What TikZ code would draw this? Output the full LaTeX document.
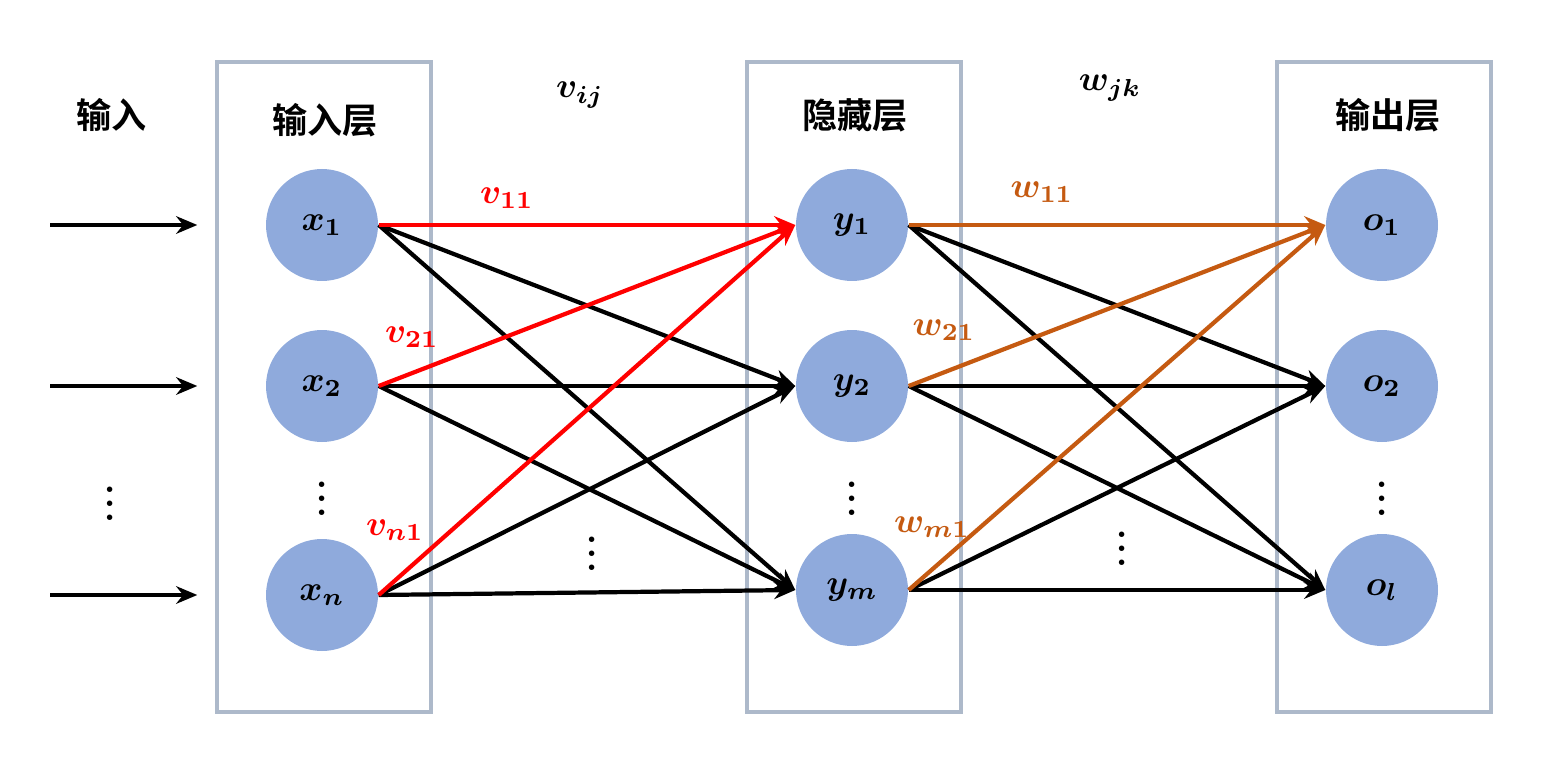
\documentclass[tikz,border=0pt]{standalone}
\usepackage{amsmath,amssymb}
\usepackage{bm}
\usepackage{fontspec}
\usepackage{xcolor}
\usetikzlibrary{arrows.meta}
\usetikzlibrary{positioning}
\newfontfamily\cjk{Noto Sans CJK SC}[BoldFont={* Bold}]
\definecolor{nodeblue}{HTML}{8FAADC}
\definecolor{boxgray}{HTML}{ADB9CA}
\definecolor{wcol}{HTML}{C55A11}
\tikzset{
  neuron/.style={circle,fill=nodeblue,minimum size=1.12cm,inner sep=0pt},
  layerbox/.style={draw=boxgray,line width=1.4pt},
  conn/.style={line width=1.2pt,-{Stealth[length=6pt,width=5pt]}},
  title/.style={font=\cjk\bfseries\fontsize{10}{12}\selectfont},
  wlabel/.style={font=\fontsize{10}{12}\selectfont}
}
\begin{document}
\begin{tikzpicture}[x=1cm,y=1cm]
    \useasboundingbox (0,0) rectangle (15.61,7.73);

    % layer boxes
    \draw[layerbox] (2.17,0.61) rectangle (4.31,7.11);
    \draw[layerbox] (7.47,0.61) rectangle (9.61,7.11);
    \draw[layerbox] (12.77,0.61) rectangle (14.91,7.11);

    % titles
    \node[title] (tin) at (1.12,6.58) {输入};
    \node[title] (tl1) at (3.25,6.53) {输入层};
    \node[title] (tl2) at (8.55,6.58) {隐藏层};
    \node[title] (tl3) at (13.88,6.58) {输出层};
    \node[wlabel] (vij) at (5.80,6.78) {$\bm{v_{ij}}$};
    \node[wlabel] (wjk) at (11.10,6.85) {$\bm{w_{jk}}$};

    % neurons
    \node[neuron] (x1) at (3.22,5.48) {$\bm{x_1}$};
    \node[neuron] (x2) at (3.22,3.87) {$\bm{x_2}$};
    \node[neuron] (xn) at (3.22,1.78) {$\bm{x_n}$};
    \node[neuron] (y1) at (8.52,5.48) {$\bm{y_1}$};
    \node[neuron] (y2) at (8.52,3.87) {$\bm{y_2}$};
    \node[neuron] (ym) at (8.52,1.83) {$\bm{y_m}$};
    \node[neuron] (o1) at (13.82,5.48) {$\bm{o_1}$};
    \node[neuron] (o2) at (13.82,3.87) {$\bm{o_2}$};
    \node[neuron] (ol) at (13.82,1.83) {$\bm{o_l}$};

    % dots
    \node[wlabel] (d0) at (1.10,2.80) {$\bm{\vdots}$};
    \node[wlabel] (d1) at (3.22,2.85) {$\bm{\vdots}$};
    \node[wlabel] (d2) at (8.52,2.85) {$\bm{\vdots}$};
    \node[wlabel] (d3) at (13.82,2.85) {$\bm{\vdots}$};
    \node[wlabel] (d4) at (5.92,2.30) {$\bm{\vdots}$};
    \node[wlabel] (d5) at (11.22,2.35) {$\bm{\vdots}$};

    % input arrows
    \foreach \n in {x1,x2,xn} {
      \coordinate (s\n) at ([xshift=-2.15cm]\n.west);
      \coordinate (e\n) at ([xshift=-0.68cm]\n.west);
      \draw[conn] (s\n) -- (e\n);
    }

    % black connections
    \foreach \a/\b in {x1/y2,x1/ym,x2/y2,x2/ym,xn/y2,xn/ym,
                      y1/o2,y1/ol,y2/o2,y2/ol,ym/o2,ym/ol}
      \draw[conn] (\a.east) -- (\b.west);

    % highlighted connections
    \foreach \a in {x1,x2,xn}
      \draw[conn,red] (\a.east) -- (y1.west);
    \foreach \a in {y1,y2,ym}
      \draw[conn,wcol] (\a.east) -- (o1.west);

    % weight labels
    \node[wlabel,red] (v11) at (5.07,5.75) {$\bm{v_{11}}$};
    \node[wlabel,red] (v21) at (4.12,4.36) {$\bm{v_{21}}$};
    \node[wlabel,red] (vn1) at (3.95,2.43) {$\bm{v_{n1}}$};
    \node[wlabel,wcol] (w11) at (10.42,5.81) {$\bm{w_{11}}$};
    \node[wlabel,wcol] (w21) at (9.44,4.43) {$\bm{w_{21}}$};
    \node[wlabel,wcol] (wm1) at (9.32,2.46) {$\bm{w_{m1}}$};
\end{tikzpicture}
\end{document}
